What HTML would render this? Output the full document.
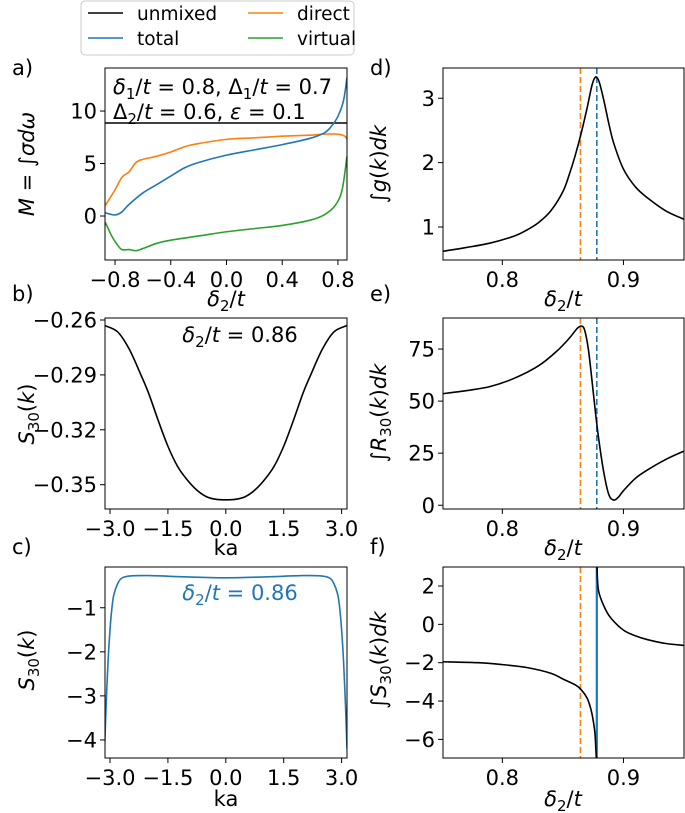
<!DOCTYPE html>
<html><head><meta charset="utf-8"><style>
html,body{margin:0;padding:0;background:#fff}
svg{display:block;font-family:"DejaVu Sans","Liberation Sans",sans-serif}
</style></head><body>
<svg id="fig" width="685" height="813" viewBox="0 0 685 813" xmlns="http://www.w3.org/2000/svg"></svg>
<script>
// ---- Panel a data ----
const aDirectX=[-0.87,-0.8,-0.75,-0.7,-0.65,-0.6,-0.5,-0.4,-0.3,-0.2,0,0.2,0.4,0.6,0.7,0.8,0.85,0.865];
const aDirectY=[1.0,2.5,3.7,4.2,5.1,5.4,5.7,6.1,6.6,6.9,7.3,7.45,7.6,7.7,7.8,7.8,7.6,7.3];
const aTotalX=[-0.87,-0.8,-0.75,-0.7,-0.6,-0.5,-0.4,-0.3,-0.2,0,0.2,0.4,0.6,0.7,0.75,0.8,0.84,0.865];
const aTotalY=[0.3,0.1,0.4,1.1,2.2,3.0,3.8,4.6,5.1,5.8,6.3,6.8,7.4,7.9,8.5,9.5,11,13.2];
const aVirtX=[-0.87,-0.82,-0.78,-0.75,-0.7,-0.65,-0.6,-0.5,-0.4,-0.2,0,0.2,0.4,0.6,0.7,0.78,0.83,0.865];
const aVirtY=[-0.6,-2.0,-2.8,-3.2,-3.2,-3.3,-3.1,-2.6,-2.3,-1.9,-1.5,-1.2,-0.9,-0.4,0.1,1.0,2.5,5.7];
const aUnmixed=8.86;
const aXTicks=[-0.8,-0.4,0.0,0.4,0.8];
const aYTicks=[0,5,10];
// ---- Panel b data ----
const bK=[-3.14,-2.8,-2.5,-2.2,-2.0,-1.75,-1.5,-1.25,-1.0,-0.75,-0.5,-0.25,0,0.25,0.5,0.75,1.0,1.25,1.5,1.75,2.0,2.2,2.5,2.8,3.14];
const bS=[-0.2630,-0.2665,-0.2760,-0.2900,-0.3000,-0.3150,-0.3290,-0.3400,-0.3474,-0.3530,-0.3566,-0.3580,-0.3583,-0.3580,-0.3566,-0.3530,-0.3474,-0.3400,-0.3290,-0.3150,-0.3000,-0.2900,-0.2760,-0.2665,-0.2630];
const bYTicks=[-0.26,-0.29,-0.32,-0.35];
const kTicks=[-3.0,-1.5,0.0,1.5,3.0];
// ---- Panel c data ----
const cK=[-3.14,-3.1,-3.05,-3.0,-2.95,-2.9,-2.8,-2.7,-2.5,-2.0,-1.0,0,1.0,2.0,2.5,2.7,2.8,2.9,2.95,3.0,3.05,3.1,3.14];
const cS=[-4.2,-3.2,-2.2,-1.5,-1.0,-0.7,-0.45,-0.33,-0.28,-0.27,-0.3,-0.32,-0.3,-0.27,-0.28,-0.33,-0.45,-0.7,-1.0,-1.5,-2.2,-3.2,-4.2];
const cYTicks=[-1,-2,-3,-4];
// ---- Panel d/e/f data ----
const dX=[0.75,0.77,0.79,0.81,0.82,0.83,0.84,0.85,0.855,0.86,0.865,0.87,0.874,0.877,0.88,0.884,0.888,0.892,0.9,0.91,0.92,0.935,0.95];
const dY=[0.62,0.68,0.75,0.86,0.95,1.07,1.25,1.55,1.8,2.1,2.45,2.85,3.2,3.33,3.25,2.95,2.6,2.3,1.9,1.62,1.45,1.25,1.12];
const eX=[0.75,0.77,0.79,0.81,0.83,0.845,0.855,0.862,0.8655,0.868,0.871,0.874,0.877,0.88,0.884,0.888,0.892,0.896,0.9,0.91,0.92,0.935,0.95];
const eY=[53.5,55,57,61,67,74,80,85,86,84,75,60,44,30,15,5,2.5,4,7,13,17,22,26];
const fX1=[0.75,0.78,0.8,0.82,0.84,0.85,0.86,0.865,0.87,0.873,0.875,0.8765,0.8772,0.8776];
const fY1=[-1.95,-2.0,-2.1,-2.25,-2.55,-2.85,-3.15,-3.4,-3.85,-4.4,-5.0,-5.7,-6.5,-7];
const fX2=[0.8782,0.8787,0.88,0.885,0.89,0.9,0.91,0.92,0.935,0.95];
const fY2=[3,2.2,1.6,0.8,0.3,-0.3,-0.6,-0.8,-1.0,-1.1];
const dXTicks=[0.8,0.9];
const dYTicks=[1,2,3];
const eYTicks=[0,25,50,75];
const fYTicks=[-6,-4,-2,0,2];
const vOrange=0.8645, vBlue=0.878;

const NS="http://www.w3.org/2000/svg";
const svg=document.getElementById('fig');
const FS=21, SUB=15;
function el(tag,attrs,parent){const e=document.createElementNS(NS,tag);for(const k in attrs)e.setAttribute(k,attrs[k]);(parent||svg).appendChild(e);return e;}
function fmt(v,d){let s=v.toFixed(d);if(v<0||s.startsWith('-'))s='\u2212'+s.replace('-','');return s;}
function mkAxes(L,R,T,B,x0,x1,y0,y1){return{L,R,T,B,sx:v=>L+(v-x0)/(x1-x0)*(R-L),sy:v=>B-(v-y0)/(y1-y0)*(B-T)};}
function crPath(xs,ys){const n=xs.length;let d='M'+xs[0].toFixed(2)+','+ys[0].toFixed(2);
 for(let i=0;i<n-1;i++){const x0=xs[Math.max(0,i-1)],y0=ys[Math.max(0,i-1)],x1=xs[i],y1=ys[i],x2=xs[i+1],y2=ys[i+1],x3=xs[Math.min(n-1,i+2)],y3=ys[Math.min(n-1,i+2)];
  let c1x=x1+(x2-x0)/6,c1y=y1+(y2-y0)/6,c2x=x2-(x3-x1)/6,c2y=y2-(y3-y1)/6;
  c1x=Math.min(Math.max(c1x,x1),x2);c2x=Math.min(Math.max(c2x,x1),x2);
  d+='C'+c1x.toFixed(2)+','+c1y.toFixed(2)+' '+c2x.toFixed(2)+','+c2y.toFixed(2)+' '+x2.toFixed(2)+','+y2.toFixed(2);}
 return d;}
function curve(ax,X,Y,color,name,g){const px=X.map(ax.sx),py=Y.map(ax.sy);const p=el('path',{d:crPath(px,py),fill:'none',stroke:color,'stroke-width':1.6,'stroke-linejoin':'round'},g);
 
 return p;}
function frame(ax,name,xt,xd,yt,yd){const g=el('g',{});
 
 
 const cid='clip-'+name;const cp=el('clipPath',{id:cid},g);el('rect',{x:ax.L,y:ax.T,width:ax.R-ax.L,height:ax.B-ax.T},cp);
 const inner=el('g',{'clip-path':'url(#'+cid+')'},g);
 xt.forEach(v=>{const x=ax.sx(v);el('line',{x1:x,x2:x,y1:ax.B,y2:ax.B+5,stroke:'#000','stroke-width':1},g);
  const t=el('text',{x:x,y:ax.B+27,'text-anchor':'middle','font-size':FS},g);t.textContent=fmt(v,xd);
  
  });
 yt.forEach(v=>{const y=ax.sy(v);el('line',{x1:ax.L-5,x2:ax.L,y1:y,y2:y,stroke:'#000','stroke-width':1},g);
  const t=el('text',{x:ax.L-8,y:y+7.5,'text-anchor':'end','font-size':FS},g);t.textContent=fmt(v,yd);
  
  });
 return {g,inner};}
function border(ax,g){el('rect',{x:ax.L,y:ax.T,width:ax.R-ax.L,height:ax.B-ax.T,fill:'none',stroke:'#000','stroke-width':1},g);}
function txt(x,y,html,opts,name){const t=el('text',Object.assign({x,y,'font-size':FS},opts||{}));t.innerHTML=html;
 
 return t;}
function vline(ax,v,color,g,name){const x=ax.sx(v);const l=el('line',{x1:x,x2:x,y1:ax.T,y2:ax.B,stroke:color,'stroke-width':1.6,'stroke-dasharray':'6,3'},g);
 
 }
const I='font-style="italic"';
const sub=s=>'<tspan font-size="'+SUB+'" dy="5">'+s+'</tspan><tspan dy="-5">';
const D2='<tspan '+I+'>δ</tspan>'+sub('2')+'/</tspan><tspan '+I+'>t</tspan>';

// Panel a
const A=mkAxes(105,347,68,260,-0.872,0.865,-4.19,14.1);
let f=frame(A,'panel-a',aXTicks,1,aYTicks,0);
let l=el('line',{x1:A.L,x2:A.R,y1:A.sy(aUnmixed),y2:A.sy(aUnmixed),stroke:'#000','stroke-width':1.6},f.inner);


curve(A,aDirectX,aDirectY,'#ff7f0e','direct-line',f.inner);
curve(A,aTotalX,aTotalY,'#1f77b4','total-line',f.inner);
curve(A,aVirtX,aVirtY,'#2ca02c','virtual-line',f.inner);
border(A,f.g);
txt(113,94,'<tspan '+I+'>δ</tspan>'+sub('1')+'/</tspan><tspan '+I+'>t</tspan> = 0.8, Δ'+sub('1')+'/</tspan><tspan '+I+'>t</tspan> = 0.7',{},'params-line-1');
txt(113,119,'Δ'+sub('2')+'/</tspan><tspan '+I+'>t</tspan> = 0.6, <tspan '+I+'>ε</tspan> = 0.1',{},'params-line-2');
txt(226,306,D2,{'text-anchor':'middle'},'x-axis-title-a');
txt(0,0,'<tspan '+I+'>M</tspan> = ∫<tspan '+I+'>σdω</tspan>',{'text-anchor':'middle',transform:'translate(34,164) rotate(-90)'},'y-axis-title-a');
txt(12,75,'a)',{},'panel-label-a');

// Legend
const lg=el('g',{});


el('rect',{x:81,y:1,width:273,height:54,rx:4,fill:'#fff',stroke:'#ccc','stroke-width':1},lg);
[['unmixed','#000',88,18],['total','#1f77b4',88,43],['direct','#ff7f0e',248,18],['virtual','#2ca02c',248,43]].forEach(e=>{
 const it=el('g',{},lg);
 
 
 el('line',{x1:e[2],x2:e[2]+35,y1:e[3]-5,y2:e[3]-5,stroke:e[1],'stroke-width':1.6},it);
 const t=el('text',{x:e[2]+49,y:e[3]+2,'font-size':18.5},it);t.textContent=e[0];});

// Panel b
const Bx=mkAxes(105,347,318,509,-3.13,3.14,-0.3633,-0.2589);
f=frame(Bx,'panel-b',kTicks,1,bYTicks,2);
curve(Bx,bK,bS,'#000','s30-curve-b',f.inner);
border(Bx,f.g);
txt(240,342,D2+' = 0.86',{'text-anchor':'middle'},'annotation-b');
txt(226,555,'ka',{'text-anchor':'middle'},'x-axis-title-b');
txt(0,0,'<tspan '+I+'>S</tspan>'+sub('30')+'(</tspan><tspan '+I+'>k</tspan>)',{'text-anchor':'middle',transform:'translate(34,414) rotate(-90)'},'y-axis-title-b');
txt(12,301,'b)',{},'panel-label-b');

// Panel c
const C=mkAxes(105,347,567,758,-3.13,3.14,-4.41,-0.075);
f=frame(C,'panel-c',kTicks,1,cYTicks,0);
curve(C,cK,cS,'#1f77b4','s30-curve-c',f.inner);
border(C,f.g);
txt(240,600,D2+' = 0.86',{'text-anchor':'middle',fill:'#1f77b4'},'annotation-c');
txt(226,806,'ka',{'text-anchor':'middle'},'x-axis-title-c');
txt(0,0,'<tspan '+I+'>S</tspan>'+sub('30')+'(</tspan><tspan '+I+'>k</tspan>)',{'text-anchor':'middle',transform:'translate(34,660) rotate(-90)'},'y-axis-title-c');
txt(12,554,'c)',{},'panel-label-c');

// Panel d
const D=mkAxes(443,684,68,260,0.751,0.95,0.487,3.47);
f=frame(D,'panel-d',dXTicks,1,dYTicks,0);
vline(D,vOrange,'#ff7f0e',f.inner,'orange-marker-d');vline(D,vBlue,'#1f77b4',f.inner,'blue-marker-d');
curve(D,dX,dY,'#000','g-integral-curve',f.inner);
border(D,f.g);
txt(563,306,D2,{'text-anchor':'middle'},'x-axis-title-d');
txt(0,0,'∫<tspan '+I+'>g</tspan>(<tspan '+I+'>k</tspan>)<tspan '+I+'>dk</tspan>',{'text-anchor':'middle',transform:'translate(386,164) rotate(-90)'},'y-axis-title-d');
txt(370,75,'d)',{},'panel-label-d');

// Panel e
const E=mkAxes(443,684,318,509,0.751,0.95,-1.8,89.9);
f=frame(E,'panel-e',dXTicks,1,eYTicks,0);
vline(E,vOrange,'#ff7f0e',f.inner,'orange-marker-e');vline(E,vBlue,'#1f77b4',f.inner,'blue-marker-e');
curve(E,eX,eY,'#000','r30-integral-curve',f.inner);
border(E,f.g);
txt(563,555,D2,{'text-anchor':'middle'},'x-axis-title-e');
txt(0,0,'∫<tspan '+I+'>R</tspan>'+sub('30')+'(</tspan><tspan '+I+'>k</tspan>)<tspan '+I+'>dk</tspan>',{'text-anchor':'middle',transform:'translate(386,413) rotate(-90)'},'y-axis-title-e');
txt(370,301,'e)',{},'panel-label-e');

// Panel f
const F=mkAxes(443,684,567,758,0.751,0.95,-6.97,2.99);
f=frame(F,'panel-f',dXTicks,1,fYTicks,0);
vline(F,vOrange,'#ff7f0e',f.inner,'orange-marker-f');
let bl=el('line',{x1:F.sx(vBlue),x2:F.sx(vBlue),y1:F.T,y2:F.B,stroke:'#1f77b4','stroke-width':2.2},f.inner);


curve(F,fX1,fY1,'#000','s30-integral-left-branch',f.inner);
curve(F,fX2,fY2,'#000','s30-integral-right-branch',f.inner);
border(F,f.g);
txt(563,806,D2,{'text-anchor':'middle'},'x-axis-title-f');
txt(0,0,'∫<tspan '+I+'>S</tspan>'+sub('30')+'(</tspan><tspan '+I+'>k</tspan>)<tspan '+I+'>dk</tspan>',{'text-anchor':'middle',transform:'translate(386,660) rotate(-90)'},'y-axis-title-f');
txt(370,554,'f)',{},'panel-label-f');
</script>
</body></html>
